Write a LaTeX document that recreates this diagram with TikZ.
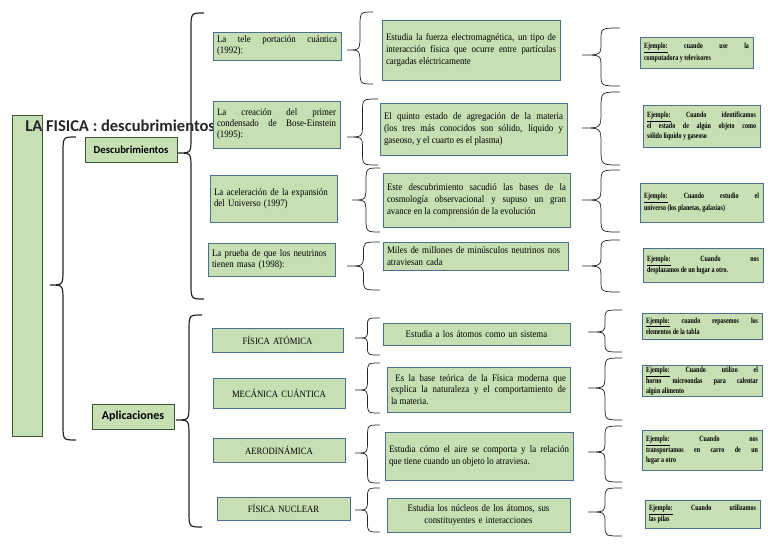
\documentclass[tikz,border=0pt]{standalone}
\usepackage{fontspec}
\setmainfont{Liberation Serif}[FakeStretch=0.9]
\newfontfamily\exf{Liberation Serif}[FakeStretch=0.75]
\newfontfamily\calib{Carlito}
\definecolor{gfill}{HTML}{C6E0B4}
\definecolor{bblue}{HTML}{4A6F93}
\definecolor{dgreen}{HTML}{3F5530}
\hyphenpenalty=10000
\exhyphenpenalty=10000
\newcommand\mybrace[6][]{%
 \pgfmathsetmacro\bxm{(#2+#3)/2}%
 \pgfmathsetmacro\br{min((#2-#3)*0.6,(#5-#4)/2.2,(#6-#5)/2.2)}%
 \draw[#1] (#2,#4) .. controls (\bxm,#4) .. (\bxm,{#4+\br}) -- (\bxm,{#5-\br}) .. controls (\bxm,#5) .. (#3,#5) .. controls (\bxm,#5) .. (\bxm,{#5+\br}) -- (\bxm,{#6-\br}) .. controls (\bxm,#6) .. (#2,#6);}
\newcommand\bx[7]{%
 \pgfmathsetmacro\bW{(#4-#2)*0.75}%
 \pgfmathsetmacro\bH{(#5-#3)*0.75}%
 \pgfmathsetmacro\bT{(#4-#2)*0.75-6}%
 \node[#6, minimum width=\bW pt, minimum height=\bH pt, text width=\bT pt] (#1) at ({(#2+#4)/2},{(#3+#5)/2}) {#7};}
\tikzset{
 base/.style={fill=gfill, line width=0.7pt, inner xsep=3pt, inner ysep=1pt},
 tbox/.style={base, draw=dgreen, align=center, font=\calib\bfseries\fontsize{8}{9}\selectfont},
 dbox/.style={base, draw=bblue, align=justify, font=\fontsize{7.4}{8.2}\selectfont},
 cbox/.style={base, draw=bblue, align=justify, font=\fontsize{7.4}{8.8}\selectfont},
 ebox/.style={base, draw=bblue, align=justify, font=\exf\bfseries\fontsize{6}{7.4}\selectfont},
 abox/.style={base, draw=bblue, align=center, font=\fontsize{7.2}{8}\selectfont},
 bigbr/.style={line width=0.9pt, black!85},
 smbr/.style={line width=0.55pt, black!85}
}
\begin{document}
\begin{tikzpicture}[x=0.75pt,y=-0.75pt]
\useasboundingbox (0,0) rectangle (768,543);
% main column
\bx{main}{12}{115}{42}{436}{tbox}{}
\node[anchor=base west, inner sep=0, text=black!85, font=\calib\bfseries\fontsize{12.4}{14}\selectfont] (title) at (25,131) {LA FISICA : descubrimientos};
% braces level 1
\mybrace[bigbr]{76}{50}{137}{285}{440}
\mybrace[bigbr]{204}{178}{13}{153}{299}
\mybrace[bigbr]{202}{176}{315}{420}{527}
% braces level 2 (discoveries)
\mybrace[smbr]{373}{347}{12}{50}{84}
\mybrace[smbr]{378}{347}{99}{137}{165}
\mybrace[smbr]{380}{352}{168}{200}{232}
\mybrace[smbr]{380}{347}{242}{266}{290}
% braces level 3 (discoveries)
\mybrace[smbr]{620}{582}{28}{55}{86}
\mybrace[smbr]{620}{582}{92}{128}{165}
\mybrace[smbr]{620}{582}{170}{200}{232}
\mybrace[smbr]{620}{582}{240}{266}{292}
% braces level 2 (applications)
\mybrace[smbr]{380}{355}{318}{338}{355}
\mybrace[smbr]{380}{355}{363}{390}{413}
\mybrace[smbr]{380}{355}{425}{453}{483}
\mybrace[smbr]{380}{355}{488}{510}{532}
% braces level 3 (applications)
\mybrace[smbr]{622}{588}{310}{332}{352}
\mybrace[smbr]{622}{588}{358}{388}{420}
\mybrace[smbr]{622}{588}{426}{452}{482}
\mybrace[smbr]{622}{588}{488}{512}{536}
% category boxes
\bx{desc}{85}{137}{177}{162}{tbox}{Descubrimientos}
\bx{apl}{92}{404}{174}{429}{tbox, font=\calib\bfseries\fontsize{9}{10}\selectfont}{Aplicaciones}
% discoveries
\bx{d1}{213}{32}{341}{60}{dbox}{La tele portación cuántica\linebreak (1992):}
\bx{d2}{213}{101}{340}{148}{dbox}{La creación del primer\linebreak condensado de Bose-Einstein\linebreak (1995):}
\bx{d3}{210}{175}{337}{222}{dbox, align=left}{La aceleración de la expansión\\ del Universo (1997)}
\bx{d4}{208}{243}{335}{276}{dbox, align=left}{La prueba de que los neutrinos\\ tienen masa (1998):}
\bx{c1}{382}{20}{560}{80}{cbox}{Estudia la fuerza electromagnética, un tipo de\linebreak interacción física que ocurre entre partículas\linebreak cargadas eléctricamente}
\bx{c2}{380}{103}{567}{155}{cbox}{El quinto estado de agregación de la materia\linebreak (los tres más conocidos son sólido, líquido y\linebreak gaseoso, y el cuarto es el plasma)}
\bx{c3}{383}{173}{570}{227}{cbox}{Este descubrimiento sacudió las bases de la\linebreak cosmología observacional y supuso un gran\linebreak avance en la comprensión de la evolución}
\bx{c4}{383}{242}{568}{270}{cbox, align=left}{Miles de millones de minúsculos neutrinos nos\\ atraviesan cada}
\bx{e1}{640}{37}{753}{68}{ebox}{\underline{Ejemplo:} cuando use la\linebreak computadora y televisores}
\bx{e2}{643}{105}{760}{147}{ebox}{\underline{Ejemplo:} Cuando identificamos\linebreak el estado de algún objeto como\linebreak sólido líquido y gaseoso}
\bx{e3}{640}{183}{763}{222}{ebox}{\underline{Ejemplo:} Cuando estudio el\linebreak universo (los planetas, galaxias)}
\bx{e4}{643}{248}{763}{282}{ebox}{\underline{Ejemplo:} Cuando nos\linebreak desplazamos de un lugar a otro.}
% applications
\bx{a1}{212}{328}{343}{352}{abox}{FÍSICA ATÓMICA}
\bx{a2}{213}{378}{345}{408}{abox}{MECÁNICA CUÁNTICA}
\bx{a3}{213}{438}{345}{462}{abox}{AERODINÁMICA}
\bx{a4}{217}{497}{350}{520}{abox}{FÍSICA NUCLEAR}
\bx{f1}{383}{323}{570}{345}{cbox, align=center}{Estudia a los átomos como un sistema}
\bx{f2}{387}{367}{570}{412}{cbox}{\ Es la base teórica de la Física moderna que\linebreak explica la naturaleza y el comportamiento de\linebreak la materia.}
\bx{f3}{385}{432}{573}{480}{cbox}{Estudia cómo el aire se comporta y la relación\linebreak que tiene cuando un objeto lo atraviesa.}
\bx{f4}{387}{498}{570}{532}{cbox, align=center}{Estudia los núcleos de los átomos, sus\\ constituyentes e interacciones}
\bx{g1}{642}{313}{762}{339}{ebox}{\underline{Ejemplo:} cuando repasemos los\linebreak elementos de la tabla}
\bx{g2}{642}{367}{762}{395}{ebox}{\underline{Ejemplo:} Cuando utilizo el\linebreak horno microondas para calentar\linebreak algún alimento}
\bx{g3}{642}{430}{762}{470}{ebox}{\underline{Ejemplo:} Cuando nos\linebreak transportamos en carro de un\linebreak lugar a otro}
\bx{g4}{645}{500}{760}{528}{ebox}{\underline{Ejemplo:} Cuando utilizamos\linebreak las pilas}
\end{tikzpicture}
\end{document}
